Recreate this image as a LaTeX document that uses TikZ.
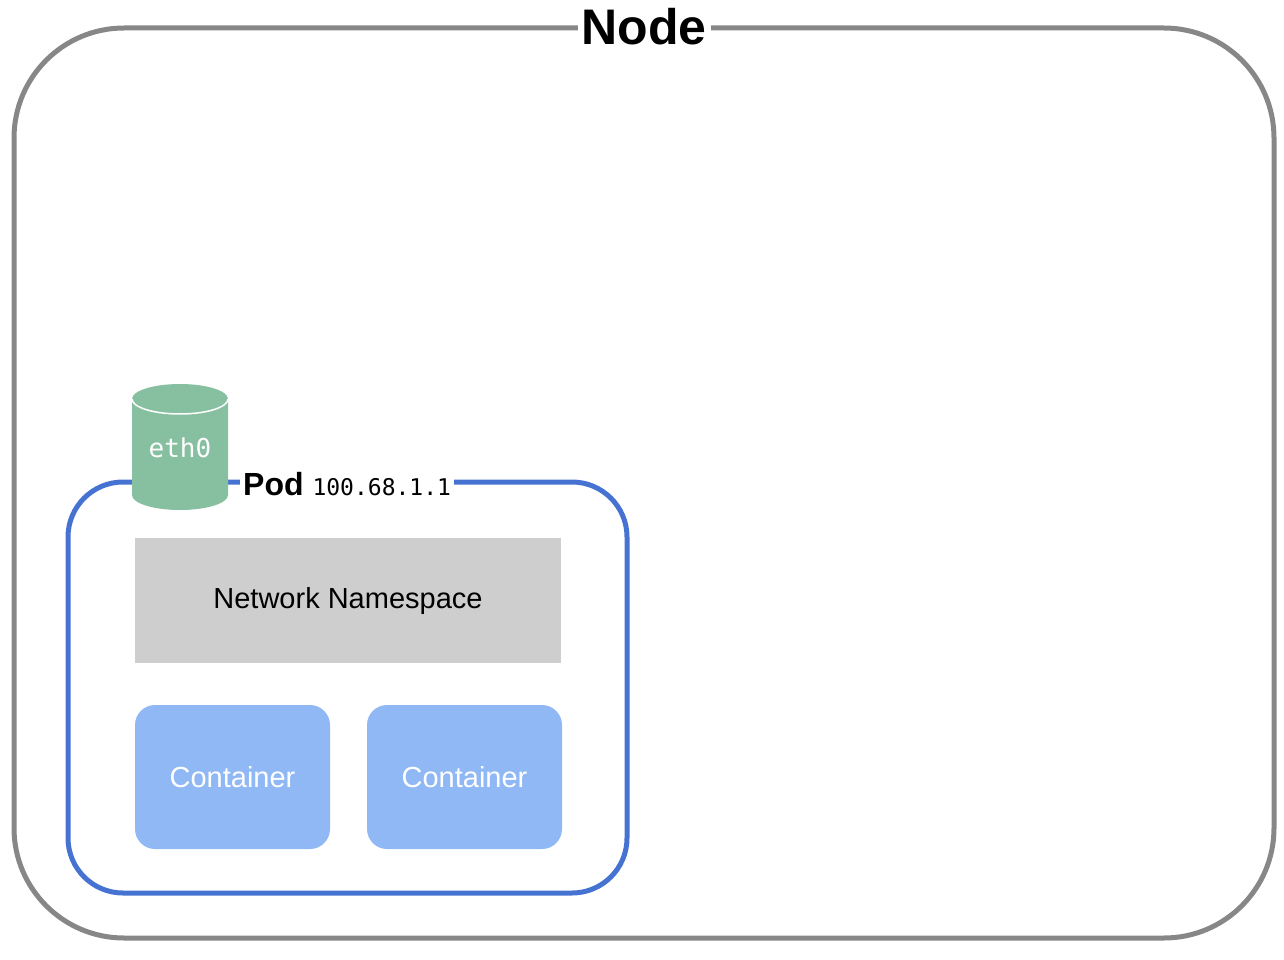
\documentclass[tikz,border=0pt]{standalone}
\usepackage{fontspec}
\setmainfont{Liberation Sans}
\newfontfamily\monofont{DejaVu Sans Mono}
\usetikzlibrary{shapes.geometric}
\definecolor{nodegray}{RGB}{135,135,135}
\definecolor{podblue}{RGB}{70,115,210}
\definecolor{ethgreen}{RGB}{134,192,160}
\definecolor{nsgray}{RGB}{206,206,206}
\definecolor{ctrblue}{RGB}{143,184,245}
\tikzset{
  container/.style={fill=ctrblue, rounded corners=20pt, minimum width=195pt, minimum height=144pt,
    text=white, font=\fontsize{29}{34}\selectfont},
  boxlabel/.style={fill=white, inner sep=3pt, font=\bfseries}
}
\begin{document}
\begin{tikzpicture}[x=1pt, y=-1pt]
    \useasboundingbox (0,0) rectangle (1284,960);

    % node frame
    \draw[color=nodegray, line width=5pt, rounded corners=110pt] (14,28) rectangle (1274,938);
    \node[boxlabel, font=\bfseries\fontsize{50}{56}\selectfont, inner sep=4pt] (nodelabel) at (644,27) {Node};

    % pod frame
    \draw[color=podblue, line width=5pt, rounded corners=55pt] (68,482) rectangle (627,893);
    \node[boxlabel, anchor=west, font=\bfseries\fontsize{32}{38}\selectfont] (podlabel) at (240,484)
      {Pod {\monofont\mdseries\fontsize{23}{27}\selectfont 100.68.1.1}};

    % eth0 interface
    \fill[color=ethgreen] (132,399) -- (132,495) arc [x radius=48pt, y radius=15pt, start angle=180, end angle=360]
      -- (228,399) arc [x radius=48pt, y radius=15pt, start angle=0, end angle=180] -- cycle;
    \draw[color=white, line width=1.5pt] (132,399) arc [x radius=48pt, y radius=15pt, start angle=180, end angle=360];
    \node[text=white, font=\monofont\fontsize{26}{30}\selectfont] (eth) at (180,448) {eth0};

    % network namespace
    \node[fill=nsgray, minimum width=426pt, minimum height=125pt, font=\fontsize{29}{34}\selectfont]
      (netns) at (348,600.5) {Network Namespace};

    % containers
    \node[container] (ctrA) at (232.5,777) {Container};
    \node[container] (ctrB) at (464.5,777) {Container};
\end{tikzpicture}
\end{document}
